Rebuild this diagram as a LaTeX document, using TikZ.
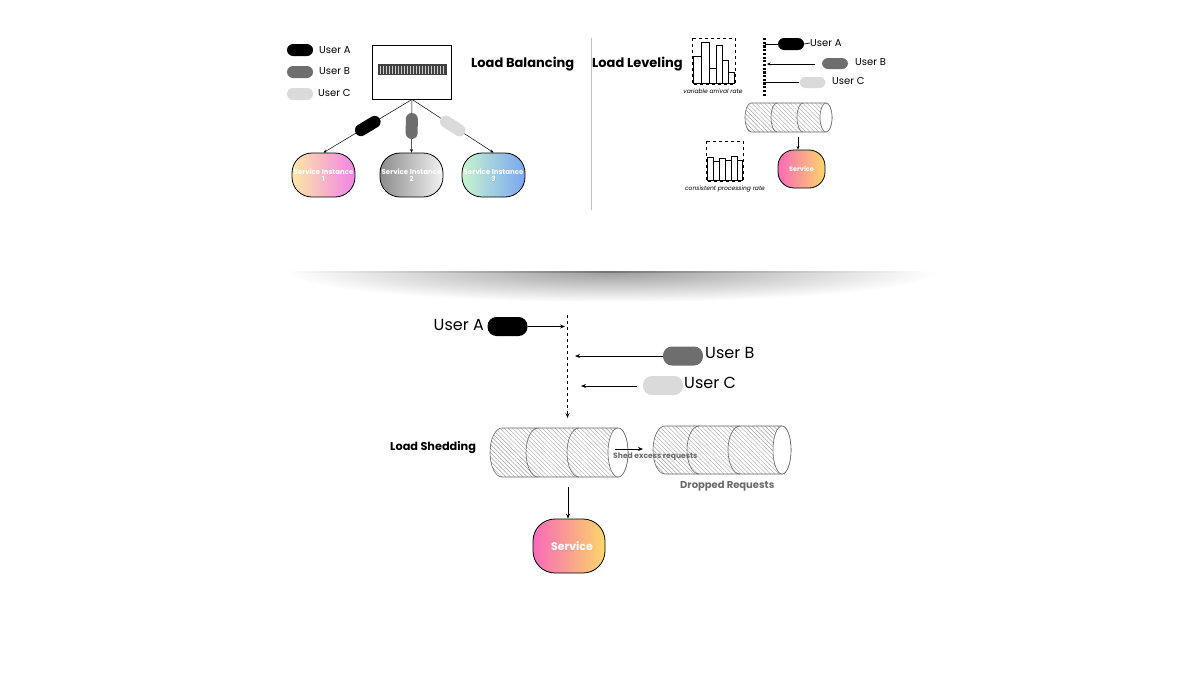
\documentclass[tikz,border=0pt]{standalone}
\usepackage{fontspec}
\setmainfont{Poppins}
\usetikzlibrary{arrows.meta,patterns.meta}
\definecolor{ugray}{HTML}{6E6E6E}
\definecolor{ulight}{HTML}{DADADA}
\definecolor{sione}{HTML}{FCE8A4}
\definecolor{sitwo}{HTML}{F283E8}
\definecolor{sithree}{HTML}{C6F4CE}
\definecolor{sifour}{HTML}{7AA6F2}
\definecolor{svl}{HTML}{F86AB8}
\definecolor{svr}{HTML}{FBD66A}
\definecolor{hatch}{HTML}{A0A0A0}
\definecolor{txtgray}{HTML}{6A6A6A}
\newcommand\hcyl[7]{% x1, ytop, x2, ybot, rx, endrx, dividers
  \pgfmathsetmacro\cyry{(#2-#4)/2}%
  \pgfmathsetmacro\cycy{(#2+#4)/2}%
  \path[pattern={Lines[angle=-45,distance=3pt,line width=0.4pt]}, pattern color=hatch] (#1+#5,#2) -- (#3-#6,#2) arc[start angle=90,end angle=-90,x radius=#6,y radius=\cyry] -- (#1+#5,#4) arc[start angle=270,end angle=90,x radius=#5,y radius=\cyry] -- cycle;
  \draw[cylline] (#1+#5,#2) -- (#3-#6,#2) arc[start angle=90,end angle=-90,x radius=#6,y radius=\cyry] -- (#1+#5,#4) arc[start angle=270,end angle=90,x radius=#5,y radius=\cyry] -- cycle;
  \filldraw[cylline, fill=white] (#3-#6,\cycy) ellipse [x radius=#6, y radius=\cyry];
  \foreach \dd in {#7} {\draw[cylline] (\dd,#2) arc[start angle=90,end angle=270,x radius=#5,y radius=\cyry];}
}
\begin{document}
\begin{tikzpicture}[x=1pt,y=1pt,
  pill/.style={rectangle, rounded corners=6pt, inner sep=0pt, minimum width=26pt, minimum height=12pt},
  bigpill/.style={rectangle, rounded corners=9pt, inner sep=0pt, minimum width=40pt, minimum height=19pt},
  ulabel/.style={anchor=west, inner sep=0pt, font=\fontsize{10}{12}\selectfont},
  blabel/.style={inner sep=0pt, font=\fontsize{16}{18}\selectfont},
  title/.style={anchor=west, inner sep=0pt, font=\bfseries\fontsize{13}{15}\selectfont},
  arr/.style={-{Stealth[length=5pt,width=4pt]}, line width=0.7pt},
  sarr/.style={-{Stealth[length=3.5pt,width=3pt]}, line width=0.5pt},
  svc/.style={draw, line width=0.8pt, text=white, align=center, inner sep=0pt, font=\bfseries\fontsize{7}{7.5}\selectfont},
  cylline/.style={draw=black!60, line width=0.6pt},
  hand/.style={inner sep=0pt, font=\itshape\fontsize{6}{7}\selectfont}
]
\useasboundingbox (0,0) rectangle (1200,-675);
\fill[white] (0,0) rectangle (1200,-675);

% ---------- Load Balancing ----------
\node[pill, fill=black] (ua1) at (300,-50) {};
\node[ulabel] (ua1l) at (319,-50) {User A};
\node[pill, fill=ugray] (ub1) at (300,-72) {};
\node[ulabel] (ub1l) at (319,-71) {User B};
\node[pill, fill=ulight] (uc1) at (300,-94) {};
\node[ulabel] (uc1l) at (318,-93) {User C};

\node[draw, line width=0.8pt, minimum width=79pt, minimum height=54pt, inner sep=0pt] (lb) at (412,-72) {};
\fill[black!75] (378,-64) rectangle (447,-75);
\foreach \x in {380.5,383.5,...,446} {\draw[white!80!black, line width=0.6pt] (\x,-65.5) -- (\x,-73.5);}

\node[svc, left color=sione, right color=sitwo, minimum width=63pt, minimum height=44pt, rounded corners=20pt] (si1) at (323.5,-175) {Service Instance\\1};
\node[svc, left color=black!45, right color=black!5, minimum width=63pt, minimum height=44pt, rounded corners=20pt] (si2) at (411.5,-175) {Service Instance\\2};
\node[svc, left color=sithree, right color=sifour, minimum width=63pt, minimum height=44pt, rounded corners=20pt] (si3) at (493.5,-175) {Service Instance\\3};

\draw[sarr] (lb.south) -- node[pill, sloped, fill=black, minimum width=28pt] {} (si1.north);
\draw[sarr] (lb.south) -- node[pill, sloped, fill=ugray] {} (si2.north);
\draw[sarr] (lb.south) -- node[pill, sloped, fill=ulight, minimum width=28pt] {} (si3.north);

\node[title] (lbt) at (471,-64) {Load Balancing};

\draw[black!25, line width=0.6pt] (591,-38) -- (591,-210);

% ---------- Load Leveling ----------
\node[title] (llt) at (592,-64) {Load Leveling};

\draw[dashed, line width=0.5pt] (692,-38) rectangle (735,-84);
\foreach \a/\b/\t in {693/701/56,701/709/42,709/716/68,716/722/45,722/728/60,728/734/72}
  {\draw[line width=0.5pt, fill=white] (\a,-83) rectangle (\b,-\t);}
\node[hand] (var) at (713,-91) {variable arrival rate};

\draw[dashed, line width=0.5pt] (706,-141) rectangle (743,-181);
\foreach \a/\b/\t in {707/713/157,713/719/161,719/725/158,725/731/160,731/737/156,737/742/160}
  {\draw[line width=0.5pt, fill=white] (\a,-180) rectangle (\b,-\t);}
\node[hand] (cons) at (725,-189) {consistent processing rate};

\coordinate (dt) at (764,-38);
\coordinate (db) at (764,-95);
\foreach \yy in {38,41.7,...,94} {\fill[black] (762.5,-\yy) rectangle (765.5,-\yy-2.2);}

\node[pill, fill=black] (ua2) at (791,-44) {};
\node[ulabel] (ua2l) at (810,-43) {User A};
\coordinate (la2) at (765,-44);
\draw[line width=0.7pt] (ua2.west) -- (la2);
\draw[line width=0.7pt] (ua2.east) -- (ua2l.west);

\node[pill, fill=ugray, minimum height=11pt] (ub2) at (835,-63.5) {};
\node[ulabel] (ub2l) at (855,-62) {User B};
\coordinate (lb2s) at (815,-64);
\coordinate (lb2e) at (767,-64);
\draw[sarr] (lb2s) -- (lb2e);

\node[pill, fill=ulight, minimum height=11pt] (uc2) at (812.5,-82.5) {};
\node[ulabel] (uc2l) at (832,-81) {User C};
\coordinate (lc2) at (766,-82.5);
\draw[line width=0.7pt] (uc2.west) -- (lc2);

\hcyl{745}{-103}{832}{-132}{6}{6}{777,803}
\node[minimum width=87pt, minimum height=29pt, inner sep=0pt] (q2) at (788.5,-117.5) {};

\node[svc, left color=svl, right color=svr, minimum width=47pt, minimum height=38pt, rounded corners=16pt, font=\bfseries\fontsize{6.5}{7}\selectfont] (sv2) at (801.5,-169) {Service};
\draw[sarr] (798,-137) -- (sv2.north -| 798,0);

% ---------- separator shadow ----------
\begin{scope}
  \clip (280,-272) rectangle (940,-305);
  \shade[inner color=black!38, outer color=white] (612,-272) ellipse [x radius=325, y radius=30];
\end{scope}
\shade[left color=white, right color=white, middle color=black!55] (285,-271.6) rectangle (930,-272.6);

% ---------- Load Shedding ----------
\node[blabel, anchor=east] (ua3l) at (484,-325) {User A};
\node[bigpill, fill=black] (ua3) at (507.5,-326.5) {};
\coordinate (ta3) at (565,-326.5);
\draw[arr] (ua3.east) -- (ta3);

\coordinate (dl1) at (567.5,-315);
\coordinate (dl2) at (567.5,-418);
\draw[dashed, line width=0.8pt, -{Stealth[length=5pt,width=4pt]}] (dl1) -- (dl2);

\node[bigpill, fill=ugray] (ub3) at (683,-356) {};
\node[blabel, anchor=west] (ub3l) at (705,-353) {User B};
\coordinate (tb3) at (575,-356);
\draw[arr] (ub3.west) -- (tb3);

\node[bigpill, fill=ulight] (uc3) at (663,-385.5) {};
\node[blabel, anchor=west] (uc3l) at (684,-383) {User C};
\coordinate (tc3) at (581,-386);
\draw[arr, shorten <=6pt] (uc3.west |- tc3) -- (tc3);

\node[anchor=west, inner sep=0pt, font=\bfseries\fontsize{11.3}{13}\selectfont] (lst) at (390,-448) {Load Shedding};

\hcyl{490}{-428}{628}{-477}{12}{10}{538,579}
\node[minimum width=138pt, minimum height=49pt, inner sep=0pt] (q3) at (559,-452.5) {};
\hcyl{653}{-426}{791}{-474}{12}{9}{699,740}
\node[minimum width=138pt, minimum height=48pt, inner sep=0pt] (q4) at (722,-450) {};

\coordinate (sh1) at (615,-449);
\coordinate (sh2) at (643,-449);
\draw[arr] (sh1) -- (sh2);
\node[anchor=west, inner sep=0pt, text=txtgray, font=\bfseries\fontsize{7.6}{9}\selectfont] (shd) at (613,-457) {Shed excess requests};
\node[anchor=west, inner sep=0pt, text=txtgray, font=\bfseries\fontsize{10}{12}\selectfont] (drp) at (680,-486) {Dropped Requests};

\node[svc, left color=svl, right color=svr, minimum width=72pt, minimum height=54pt, rounded corners=22pt, font=\bfseries\fontsize{11}{13}\selectfont] (sv3) at (569,-546) {\hspace*{6pt}Service};
\draw[arr] (568,-487) -- (sv3.north -| 568,0);
\end{tikzpicture}
\end{document}
